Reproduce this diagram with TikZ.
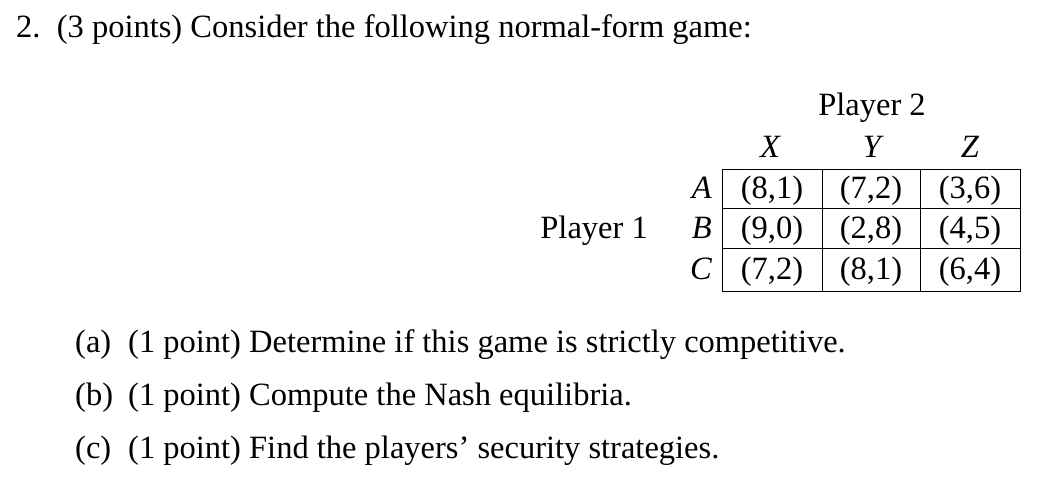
\documentclass[tikz,border=0pt]{standalone}
\usepackage{fontspec}
\setmainfont{Liberation Serif}
\begin{document}
\begin{tikzpicture}[x=1pt,y=-1pt,
  txt/.style={inner sep=0pt,font=\fontsize{32.5}{38}\selectfont},
  cell/.style={txt,anchor=base}]
\useasboundingbox (0,0) rectangle (1042,484);
\node[txt,anchor=base west] (title) at (16,38) {2.\ \ (3 points) Consider the following normal-form game:};
\node[cell] (p2) at (872,116) {Player 2};
\node[cell] (cx) at (770,158) {\itshape X};
\node[cell] (cy) at (872,158) {\itshape Y};
\node[cell] (cz) at (970,158) {\itshape Z};
\draw[line width=1pt] (722,170) rectangle (1020,291);
\draw[line width=1pt] (822,170) -- (822,291) (920,170) -- (920,291)
  (722,208) -- (1020,208) (722,248) -- (1020,248);
\node[txt,anchor=base east] (ra) at (712,198) {\itshape A};
\node[txt,anchor=base east] (rb) at (712,238) {\itshape B};
\node[txt,anchor=base east] (rc) at (712,279) {\itshape C};
\node[txt,anchor=base east] (p1) at (648,238) {Player 1};
\node[cell] at (772,198) {(8,1)};
\node[cell] at (871,198) {(7,2)};
\node[cell] at (970,198) {(3,6)};
\node[cell] at (772,238) {(9,0)};
\node[cell] at (871,238) {(2,8)};
\node[cell] at (970,238) {(4,5)};
\node[cell] at (772,279) {(7,2)};
\node[cell] at (871,279) {(8,1)};
\node[cell] at (970,279) {(6,4)};
\node[txt,anchor=base west] (qa) at (75,352) {(a)};
\node[txt,anchor=base west] at (128,352) {(1 point) Determine if this game is strictly competitive.};
\node[txt,anchor=base west] (qb) at (75,405) {(b)};
\node[txt,anchor=base west] at (128,405) {(1 point) Compute the Nash equilibria.};
\node[txt,anchor=base west] (qc) at (75,458) {(c)};
\node[txt,anchor=base west] at (128,458) {(1 point) Find the players’ security strategies.};
\end{tikzpicture}
\end{document}
